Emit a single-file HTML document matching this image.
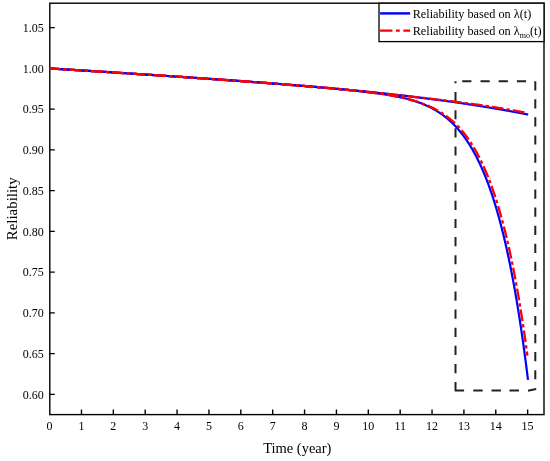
<!DOCTYPE html>
<html><head><meta charset="utf-8"><title>Reliability</title>
<style>html,body{margin:0;padding:0;background:#fff}svg{display:block}text{font-family:'Liberation Serif','Times New Roman',serif;fill:#000}</style></head>
<body>
<svg width="550" height="461" viewBox="0 0 550 461">
<rect x="0" y="0" width="550" height="461" fill="#fff"/>
<rect x="49.8" y="3.2" width="494.2" height="411.4" fill="none" stroke="#000" stroke-width="1.4"/>
<path d="M49.8 394.40h5M49.8 353.65h5M49.8 312.90h5M49.8 272.15h5M49.8 231.40h5M49.8 190.65h5M49.8 149.90h5M49.8 109.15h5M49.8 68.40h5M49.8 27.65h5M81.47 414.6v-5M113.34 414.6v-5M145.21 414.6v-5M177.08 414.6v-5M208.95 414.6v-5M240.82 414.6v-5M272.69 414.6v-5M304.56 414.6v-5M336.43 414.6v-5M368.30 414.6v-5M400.17 414.6v-5M432.04 414.6v-5M463.91 414.6v-5M495.78 414.6v-5M527.65 414.6v-5" stroke="#000" stroke-width="1.4" fill="none"/>
<g font-size="12px" text-anchor="end">
<text x="43.8" y="398.5">0.60</text>
<text x="43.8" y="357.8">0.65</text>
<text x="43.8" y="317.0">0.70</text>
<text x="43.8" y="276.2">0.75</text>
<text x="43.8" y="235.5">0.80</text>
<text x="43.8" y="194.8">0.85</text>
<text x="43.8" y="154.0">0.90</text>
<text x="43.8" y="113.3">0.95</text>
<text x="43.8" y="72.5">1.00</text>
<text x="43.8" y="31.7">1.05</text>
</g>
<g font-size="12px" text-anchor="middle">
<text x="49.6" y="429.8">0</text>
<text x="81.5" y="429.8">1</text>
<text x="113.3" y="429.8">2</text>
<text x="145.2" y="429.8">3</text>
<text x="177.1" y="429.8">4</text>
<text x="208.9" y="429.8">5</text>
<text x="240.8" y="429.8">6</text>
<text x="272.7" y="429.8">7</text>
<text x="304.6" y="429.8">8</text>
<text x="336.4" y="429.8">9</text>
<text x="368.3" y="429.8">10</text>
<text x="400.2" y="429.8">11</text>
<text x="432.0" y="429.8">12</text>
<text x="463.9" y="429.8">13</text>
<text x="495.8" y="429.8">14</text>
<text x="527.6" y="429.8">15</text>
</g>
<text x="297.3" y="452.6" font-size="14.5px" text-anchor="middle">Time (year)</text>
<text transform="translate(16.9 208.8) rotate(-90)" font-size="14.9px" text-anchor="middle">Reliability</text>
<path d="M455.5 81.3v2M462.2 81.3h9.2M480.5 81.3h9.2M498.7 81.3h9.2M516.9 81.3h9.2M535.3 81.20V90.40M535.3 99.26V108.46M535.3 117.32V126.52M535.3 135.38V144.58M535.3 153.44V162.64M535.3 171.50V180.70M535.3 189.56V198.76M535.3 207.62V216.82M535.3 225.68V234.88M535.3 243.74V252.94M535.3 261.80V271.00M535.3 279.86V289.06M535.3 297.92V307.12M535.3 315.98V325.18M535.3 334.04V343.24M535.3 352.10V361.30M535.3 370.16V379.36M535.3 388.22V389.40M455.5 92.00V101.20M455.5 110.13V119.33M455.5 128.26V137.46M455.5 146.39V155.59M455.5 164.52V173.72M455.5 182.65V191.85M455.5 200.78V209.98M455.5 218.91V228.11M455.5 237.04V246.24M455.5 255.17V264.37M455.5 273.30V282.50M455.5 291.43V300.63M455.5 309.56V318.76M455.5 327.69V336.89M455.5 345.82V355.02M455.5 363.95V373.15M455.5 382.08V390.60M454.7 390.6h9.4M473.3 390.6h9.4M491.5 390.6h9.4M509.5 390.6h9.4M528 390.7L536 389.0" stroke="#222" stroke-width="2" fill="none"/>
<g fill="none" stroke-width="2.2" stroke-linejoin="round">
<path d="M49.70 68.41 L51.70 68.53 L53.70 68.66 L55.70 68.78 L57.70 68.91 L59.70 69.03 L61.70 69.16 L63.70 69.28 L65.70 69.41 L67.70 69.53 L69.70 69.66 L71.70 69.78 L73.70 69.91 L75.70 70.04 L77.70 70.16 L79.70 70.29 L81.70 70.42 L83.70 70.54 L85.70 70.67 L87.70 70.80 L89.70 70.93 L91.70 71.05 L93.70 71.18 L95.70 71.31 L97.70 71.44 L99.70 71.57 L101.70 71.70 L103.70 71.82 L105.70 71.95 L107.70 72.08 L109.70 72.21 L111.70 72.34 L113.70 72.47 L115.70 72.60 L117.70 72.73 L119.70 72.86 L121.70 72.99 L123.70 73.12 L125.70 73.25 L127.70 73.38 L129.70 73.51 L131.70 73.64 L133.70 73.77 L135.70 73.90 L137.70 74.03 L139.70 74.16 L141.70 74.29 L143.70 74.43 L145.70 74.56 L147.70 74.69 L149.70 74.82 L151.70 74.95 L153.70 75.09 L155.70 75.22 L157.70 75.35 L159.70 75.48 L161.70 75.62 L163.70 75.75 L165.70 75.88 L167.70 76.02 L169.70 76.15 L171.70 76.29 L173.70 76.42 L175.70 76.56 L177.70 76.69 L179.70 76.83 L181.70 76.96 L183.70 77.10 L185.70 77.23 L187.70 77.37 L189.70 77.50 L191.70 77.64 L193.70 77.78 L195.70 77.91 L197.70 78.05 L199.70 78.19 L201.70 78.33 L203.70 78.47 L205.70 78.60 L207.70 78.74 L209.70 78.88 L211.70 79.02 L213.70 79.16 L215.70 79.30 L217.70 79.44 L219.70 79.58 L221.70 79.72 L223.70 79.87 L225.70 80.01 L227.70 80.15 L229.70 80.29 L231.70 80.44 L233.70 80.58 L235.70 80.72 L237.70 80.87 L239.70 81.01 L241.70 81.16 L243.70 81.30 L245.70 81.45 L247.70 81.60 L249.70 81.75 L251.70 81.89 L253.70 82.04 L255.70 82.19 L257.70 82.34 L259.70 82.49 L261.70 82.64 L263.70 82.79 L265.70 82.94 L267.70 83.10 L269.70 83.25 L271.70 83.40 L273.70 83.56 L275.70 83.71 L277.70 83.87 L279.70 84.02 L281.70 84.18 L283.70 84.34 L285.70 84.50 L287.70 84.66 L289.70 84.82 L291.70 84.98 L293.70 85.14 L295.70 85.30 L297.70 85.46 L299.70 85.63 L301.70 85.79 L303.70 85.96 L305.70 86.13 L307.70 86.29 L309.70 86.46 L311.70 86.63 L313.70 86.80 L315.70 86.97 L317.70 87.14 L319.70 87.32 L321.70 87.49 L323.70 87.66 L325.70 87.84 L327.70 88.02 L329.70 88.19 L331.70 88.37 L333.70 88.55 L335.70 88.74 L337.70 88.92 L339.70 89.10 L341.70 89.29 L343.70 89.47 L345.70 89.66 L347.70 89.85 L349.70 90.04 L351.70 90.23 L353.70 90.42 L355.70 90.61 L357.70 90.81 L359.70 91.00 L361.70 91.20 L363.70 91.40 L365.70 91.60 L367.70 91.80 L369.70 92.00 L371.70 92.21 L373.70 92.41 L375.70 92.62 L377.70 92.83 L379.70 93.04 L381.70 93.25 L383.70 93.46 L385.70 93.68 L387.70 93.89 L389.70 94.11 L391.70 94.33 L393.70 94.55 L395.70 94.78 L397.70 95.00 L399.70 95.23 L401.70 95.46 L403.70 95.69 L405.70 95.92 L407.70 96.15 L409.70 96.39 L411.70 96.62 L413.70 96.86 L415.70 97.11 L417.70 97.35 L419.70 97.59 L421.70 97.84 L423.70 98.09 L425.70 98.34 L427.70 98.59 L429.70 98.85 L431.70 99.11 L433.70 99.37 L435.70 99.63 L437.70 99.89 L439.70 100.16 L440.00 100.20 L440.25 100.23 L440.50 100.27 L440.75 100.30 L441.00 100.33 L441.25 100.37 L441.50 100.40 L441.75 100.43 L442.00 100.47 L442.25 100.50 L442.50 100.53 L442.75 100.57 L443.00 100.60 L443.25 100.64 L443.50 100.67 L443.75 100.70 L444.00 100.74 L444.25 100.77 L444.50 100.81 L444.75 100.84 L445.00 100.87 L445.25 100.91 L445.50 100.94 L445.75 100.98 L446.00 101.01 L446.25 101.05 L446.50 101.08 L446.75 101.11 L447.00 101.15 L447.25 101.18 L447.50 101.22 L447.75 101.25 L448.00 101.29 L448.25 101.32 L448.50 101.36 L448.75 101.39 L449.00 101.43 L449.25 101.46 L449.50 101.50 L449.75 101.53 L450.00 101.56 L450.25 101.60 L450.50 101.63 L450.75 101.67 L451.00 101.70 L451.25 101.74 L451.50 101.77 L451.75 101.81 L452.00 101.85 L452.25 101.88 L452.50 101.92 L452.75 101.95 L453.00 101.99 L453.25 102.02 L453.50 102.06 L453.75 102.09 L454.00 102.13 L454.25 102.16 L454.50 102.20 L454.75 102.23 L455.00 102.27 L455.25 102.31 L455.50 102.34 L455.75 102.38 L456.00 102.41 L456.25 102.45 L456.50 102.48 L456.75 102.52 L457.00 102.56 L457.25 102.59 L457.50 102.63 L457.75 102.66 L458.00 102.70 L458.25 102.74 L458.50 102.77 L458.75 102.81 L459.00 102.85 L459.25 102.88 L459.50 102.92 L459.75 102.95 L460.00 102.99 L460.25 103.03 L460.50 103.06 L460.75 103.10 L461.00 103.14 L461.25 103.17 L461.50 103.21 L461.75 103.25 L462.00 103.28 L462.25 103.32 L462.50 103.36 L462.75 103.39 L463.00 103.43 L463.25 103.47 L463.50 103.50 L463.75 103.54 L464.00 103.58 L464.25 103.62 L464.50 103.65 L464.75 103.69 L465.00 103.73 L465.25 103.76 L465.50 103.80 L465.75 103.84 L466.00 103.88 L466.25 103.91 L466.50 103.95 L466.75 103.99 L467.00 104.03 L467.25 104.06 L467.50 104.10 L467.75 104.14 L468.00 104.18 L468.25 104.21 L468.50 104.25 L468.75 104.29 L469.00 104.33 L469.25 104.36 L469.50 104.40 L469.75 104.44 L470.00 104.48 L470.25 104.52 L470.50 104.55 L470.75 104.59 L471.00 104.63 L471.25 104.67 L471.50 104.71 L471.75 104.75 L472.00 104.78 L472.25 104.82 L472.50 104.86 L472.75 104.90 L473.00 104.94 L473.25 104.98 L473.50 105.02 L473.75 105.05 L474.00 105.09 L474.25 105.13 L474.50 105.17 L474.75 105.21 L475.00 105.25 L475.25 105.29 L475.50 105.33 L475.75 105.36 L476.00 105.40 L476.25 105.44 L476.50 105.48 L476.75 105.52 L477.00 105.56 L477.25 105.60 L477.50 105.64 L477.75 105.68 L478.00 105.72 L478.25 105.76 L478.50 105.80 L478.75 105.84 L479.00 105.87 L479.25 105.91 L479.50 105.95 L479.75 105.99 L480.00 106.03 L480.25 106.07 L480.50 106.11 L480.75 106.15 L481.00 106.19 L481.25 106.23 L481.50 106.27 L481.75 106.31 L482.00 106.35 L482.25 106.39 L482.50 106.43 L482.75 106.47 L483.00 106.51 L483.25 106.55 L483.50 106.59 L483.75 106.63 L484.00 106.67 L484.25 106.71 L484.50 106.75 L484.75 106.80 L485.00 106.84 L485.25 106.88 L485.50 106.92 L485.75 106.96 L486.00 107.00 L486.25 107.04 L486.50 107.08 L486.75 107.12 L487.00 107.16 L487.25 107.20 L487.50 107.24 L487.75 107.29 L488.00 107.33 L488.25 107.37 L488.50 107.41 L488.75 107.45 L489.00 107.49 L489.25 107.53 L489.50 107.57 L489.75 107.62 L490.00 107.66 L490.25 107.70 L490.50 107.74 L490.75 107.78 L491.00 107.82 L491.25 107.86 L491.50 107.91 L491.75 107.95 L492.00 107.99 L492.25 108.03 L492.50 108.07 L492.75 108.12 L493.00 108.16 L493.25 108.20 L493.50 108.24 L493.75 108.28 L494.00 108.33 L494.25 108.37 L494.50 108.41 L494.75 108.45 L495.00 108.50 L495.25 108.54 L495.50 108.58 L495.75 108.62 L496.00 108.67 L496.25 108.71 L496.50 108.75 L496.75 108.79 L497.00 108.84 L497.25 108.88 L497.50 108.92 L497.75 108.97 L498.00 109.01 L498.25 109.05 L498.50 109.09 L498.75 109.14 L499.00 109.18 L499.25 109.22 L499.50 109.27 L499.75 109.31 L500.00 109.35 L500.25 109.40 L500.50 109.44 L500.75 109.48 L501.00 109.53 L501.25 109.57 L501.50 109.61 L501.75 109.66 L502.00 109.70 L502.25 109.75 L502.50 109.79 L502.75 109.83 L503.00 109.88 L503.25 109.92 L503.50 109.97 L503.75 110.01 L504.00 110.05 L504.25 110.10 L504.50 110.14 L504.75 110.19 L505.00 110.23 L505.25 110.28 L505.50 110.32 L505.75 110.36 L506.00 110.41 L506.25 110.45 L506.50 110.50 L506.75 110.54 L507.00 110.59 L507.25 110.63 L507.50 110.68 L507.75 110.72 L508.00 110.77 L508.25 110.81 L508.50 110.86 L508.75 110.90 L509.00 110.95 L509.25 110.99 L509.50 111.04 L509.75 111.08 L510.00 111.13 L510.25 111.17 L510.50 111.22 L510.75 111.26 L511.00 111.31 L511.25 111.36 L511.50 111.40 L511.75 111.45 L512.00 111.49 L512.25 111.54 L512.50 111.58 L512.75 111.63 L513.00 111.68 L513.25 111.72 L513.50 111.77 L513.75 111.81 L514.00 111.86 L514.25 111.91 L514.50 111.95 L514.75 112.00 L515.00 112.04 L515.25 112.09 L515.50 112.14 L515.75 112.18 L516.00 112.23 L516.25 112.28 L516.50 112.32 L516.75 112.37 L517.00 112.42 L517.25 112.46 L517.50 112.51 L517.75 112.56 L518.00 112.60 L518.25 112.65 L518.50 112.70 L518.75 112.75 L519.00 112.79 L519.25 112.84 L519.50 112.89 L519.75 112.94 L520.00 112.98 L520.25 113.03 L520.50 113.08 L520.75 113.12 L521.00 113.17 L521.25 113.22 L521.50 113.27 L521.75 113.32 L522.00 113.36 L522.25 113.41 L522.50 113.46 L522.75 113.51 L523.00 113.56 L523.25 113.60 L523.50 113.65 L523.75 113.70 L524.00 113.75 L524.25 113.80 L524.50 113.84 L524.75 113.89 L525.00 113.94 L525.25 113.99 L525.50 114.04 L525.75 114.09 L526.00 114.14 L526.25 114.18 L526.50 114.23 L526.75 114.28 L527.00 114.33 L527.25 114.38 L527.50 114.43 L527.75 114.48 L528.00 114.53 L528.20 114.57" stroke="#0000ff"/>
<path d="M49.70 68.41 L51.70 68.53 L53.70 68.66 L55.70 68.78 L57.70 68.91 L59.70 69.03 L61.70 69.16 L63.70 69.28 L65.70 69.41 L67.70 69.53 L69.70 69.66 L71.70 69.78 L73.70 69.91 L75.70 70.04 L77.70 70.16 L79.70 70.29 L81.70 70.42 L83.70 70.54 L85.70 70.67 L87.70 70.80 L89.70 70.93 L91.70 71.05 L93.70 71.18 L95.70 71.31 L97.70 71.44 L99.70 71.57 L101.70 71.70 L103.70 71.82 L105.70 71.95 L107.70 72.08 L109.70 72.21 L111.70 72.34 L113.70 72.47 L115.70 72.60 L117.70 72.73 L119.70 72.86 L121.70 72.99 L123.70 73.12 L125.70 73.25 L127.70 73.38 L129.70 73.51 L131.70 73.64 L133.70 73.77 L135.70 73.90 L137.70 74.03 L139.70 74.16 L141.70 74.29 L143.70 74.43 L145.70 74.56 L147.70 74.69 L149.70 74.82 L151.70 74.95 L153.70 75.09 L155.70 75.22 L157.70 75.35 L159.70 75.48 L161.70 75.62 L163.70 75.75 L165.70 75.88 L167.70 76.02 L169.70 76.15 L171.70 76.29 L173.70 76.42 L175.70 76.56 L177.70 76.69 L179.70 76.83 L181.70 76.96 L183.70 77.10 L185.70 77.23 L187.70 77.37 L189.70 77.50 L191.70 77.64 L193.70 77.78 L195.70 77.91 L197.70 78.05 L199.70 78.19 L201.70 78.33 L203.70 78.47 L205.70 78.60 L207.70 78.74 L209.70 78.88 L211.70 79.02 L213.70 79.16 L215.70 79.30 L217.70 79.44 L219.70 79.58 L221.70 79.72 L223.70 79.87 L225.70 80.01 L227.70 80.15 L229.70 80.29 L231.70 80.44 L233.70 80.58 L235.70 80.72 L237.70 80.87 L239.70 81.01 L241.70 81.16 L243.70 81.30 L245.70 81.45 L247.70 81.60 L249.70 81.75 L251.70 81.89 L253.70 82.04 L255.70 82.19 L257.70 82.34 L259.70 82.49 L261.70 82.64 L263.70 82.79 L265.70 82.94 L267.70 83.10 L269.70 83.25 L271.70 83.40 L273.70 83.56 L275.70 83.71 L277.70 83.87 L279.70 84.02 L281.70 84.18 L283.70 84.34 L285.70 84.50 L287.70 84.66 L289.70 84.82 L291.70 84.98 L293.70 85.14 L295.70 85.30 L297.70 85.46 L299.70 85.63 L301.70 85.79 L303.70 85.96 L305.70 86.13 L307.70 86.29 L309.70 86.46 L311.70 86.63 L313.70 86.80 L315.70 86.97 L317.70 87.14 L319.70 87.32 L321.70 87.49 L323.70 87.66 L325.70 87.84 L327.70 88.02 L329.70 88.19 L331.70 88.39 L333.70 88.58 L335.70 88.76 L337.70 88.95 L339.70 89.14 L341.70 89.33 L343.70 89.52 L345.70 89.72 L347.70 89.92 L349.70 90.12 L351.70 90.32 L353.70 90.53 L355.70 90.74 L357.70 90.95 L359.70 91.17 L361.70 91.39 L363.70 91.62 L365.70 91.85 L367.70 92.08 L369.70 92.33 L371.70 92.58 L373.70 92.83 L375.70 93.10 L377.70 93.37 L379.70 93.65 L381.70 93.94 L383.70 94.24 L385.70 94.55 L387.70 94.87 L389.70 95.21 L391.70 95.56 L393.70 95.93 L395.70 96.31 L397.70 96.71 L399.70 97.14 L401.70 97.58 L403.70 98.04 L405.70 98.53 L407.70 99.05 L409.70 99.59 L411.70 100.17 L413.70 100.77 L415.70 101.41 L417.70 102.09 L419.70 102.81 L421.70 103.57 L423.70 104.38 L425.70 105.23 L427.70 106.14 L429.70 107.10 L431.70 108.12 L433.70 109.20 L435.70 110.35 L437.70 111.57 L439.70 112.87 L440.00 113.07 L440.25 113.24 L440.50 113.41 L440.75 113.58 L441.00 113.75 L441.25 113.92 L441.50 114.10 L441.75 114.28 L442.00 114.45 L442.25 114.63 L442.50 114.81 L442.75 114.99 L443.00 115.18 L443.25 115.36 L443.50 115.55 L443.75 115.74 L444.00 115.92 L444.25 116.11 L444.50 116.31 L444.75 116.50 L445.00 116.69 L445.25 116.89 L445.50 117.09 L445.75 117.28 L446.00 117.48 L446.25 117.69 L446.50 117.89 L446.75 118.09 L447.00 118.30 L447.25 118.51 L447.50 118.72 L447.75 118.93 L448.00 119.14 L448.25 119.35 L448.50 119.57 L448.75 119.79 L449.00 120.01 L449.25 120.23 L449.50 120.45 L449.75 120.67 L450.00 120.90 L450.25 121.12 L450.50 121.35 L450.75 121.58 L451.00 121.81 L451.25 122.05 L451.50 122.28 L451.75 122.52 L452.00 122.76 L452.25 123.00 L452.50 123.24 L452.75 123.49 L453.00 123.73 L453.25 123.98 L453.50 124.23 L453.75 124.48 L454.00 124.74 L454.25 124.99 L454.50 125.25 L454.75 125.51 L455.00 125.77 L455.25 126.03 L455.50 126.30 L455.75 126.56 L456.00 126.83 L456.25 127.10 L456.50 127.37 L456.75 127.65 L457.00 127.93 L457.25 128.20 L457.50 128.48 L457.75 128.77 L458.00 129.05 L458.25 129.34 L458.50 129.63 L458.75 129.92 L459.00 130.21 L459.25 130.51 L459.50 130.81 L459.75 131.11 L460.00 131.41 L460.25 131.71 L460.50 132.02 L460.75 132.33 L461.00 132.64 L461.25 132.95 L461.50 133.27 L461.75 133.58 L462.00 133.90 L462.25 134.22 L462.50 134.55 L462.75 134.88 L463.00 135.21 L463.25 135.54 L463.50 135.87 L463.75 136.21 L464.00 136.55 L464.25 136.89 L464.50 137.23 L464.75 137.58 L465.00 137.93 L465.25 138.28 L465.50 138.63 L465.75 138.99 L466.00 139.35 L466.25 139.71 L466.50 140.07 L466.75 140.44 L467.00 140.81 L467.25 141.18 L467.50 141.56 L467.75 141.93 L468.00 142.31 L468.25 142.70 L468.50 143.08 L468.75 143.47 L469.00 143.86 L469.25 144.26 L469.50 144.65 L469.75 145.05 L470.00 145.46 L470.25 145.86 L470.50 146.27 L470.75 146.68 L471.00 147.09 L471.25 147.51 L471.50 147.93 L471.75 148.35 L472.00 148.78 L472.25 149.21 L472.50 149.64 L472.75 150.08 L473.00 150.52 L473.25 150.96 L473.50 151.40 L473.75 151.85 L474.00 152.30 L474.25 152.75 L474.50 153.21 L474.75 153.67 L475.00 154.14 L475.25 154.60 L475.50 155.07 L475.75 155.55 L476.00 156.02 L476.25 156.51 L476.50 156.99 L476.75 157.48 L477.00 157.97 L477.25 158.46 L477.50 158.96 L477.75 159.46 L478.00 159.97 L478.25 160.47 L478.50 160.99 L478.75 161.50 L479.00 162.02 L479.25 162.54 L479.50 163.07 L479.75 163.60 L480.00 164.14 L480.25 164.67 L480.50 165.21 L480.75 165.76 L481.00 166.31 L481.25 166.86 L481.50 167.42 L481.75 167.98 L482.00 168.55 L482.25 169.11 L482.50 169.69 L482.75 170.26 L483.00 170.84 L483.25 171.43 L483.50 172.02 L483.75 172.61 L484.00 173.21 L484.25 173.81 L484.50 174.42 L484.75 175.03 L485.00 175.64 L485.25 176.26 L485.50 176.88 L485.75 177.51 L486.00 178.14 L486.25 178.78 L486.50 179.42 L486.75 180.06 L487.00 180.71 L487.25 181.37 L487.50 182.02 L487.75 182.69 L488.00 183.35 L488.25 184.03 L488.50 184.70 L488.75 185.39 L489.00 186.07 L489.25 186.76 L489.50 187.46 L489.75 188.16 L490.00 188.87 L490.25 189.58 L490.50 190.29 L490.75 191.01 L491.00 191.74 L491.25 192.47 L491.50 193.21 L491.75 193.95 L492.00 194.69 L492.25 195.45 L492.50 196.20 L492.75 196.96 L493.00 197.73 L493.25 198.50 L493.50 199.28 L493.75 200.06 L494.00 200.85 L494.25 201.65 L494.50 202.45 L494.75 203.25 L495.00 204.06 L495.25 204.88 L495.50 205.70 L495.75 206.53 L496.00 207.36 L496.25 208.20 L496.50 209.05 L496.75 209.90 L497.00 210.76 L497.25 211.62 L497.50 212.49 L497.75 213.36 L498.00 214.24 L498.25 215.13 L498.50 216.02 L498.75 216.92 L499.00 217.83 L499.25 218.74 L499.50 219.66 L499.75 220.58 L500.00 221.52 L500.25 222.45 L500.50 223.40 L500.75 224.35 L501.00 225.30 L501.25 226.27 L501.50 227.24 L501.75 228.22 L502.00 229.20 L502.25 230.19 L502.50 231.19 L502.75 232.19 L503.00 233.20 L503.25 234.22 L503.50 235.25 L503.75 236.28 L504.00 237.32 L504.25 238.37 L504.50 239.42 L504.75 240.49 L505.00 241.55 L505.25 242.63 L505.50 243.72 L505.75 244.81 L506.00 245.91 L506.25 247.01 L506.50 248.13 L506.75 249.25 L507.00 250.38 L507.25 251.52 L507.50 252.66 L507.75 253.82 L508.00 254.98 L508.25 256.15 L508.50 257.33 L508.75 258.51 L509.00 259.71 L509.25 260.91 L509.50 262.12 L509.75 263.34 L510.00 264.57 L510.25 265.81 L510.50 267.05 L510.75 268.30 L511.00 269.57 L511.25 270.84 L511.50 272.12 L511.75 273.41 L512.00 274.71 L512.25 276.01 L512.50 277.33 L512.75 278.66 L513.00 279.99 L513.25 281.33 L513.50 282.69 L513.75 284.05 L514.00 285.42 L514.25 286.81 L514.50 288.20 L514.75 289.60 L515.00 291.01 L515.25 292.43 L515.50 293.86 L515.75 295.30 L516.00 296.76 L516.25 298.22 L516.50 299.69 L516.75 301.17 L517.00 302.66 L517.25 304.17 L517.50 305.68 L517.75 307.20 L518.00 308.74 L518.25 310.29 L518.50 311.84 L518.75 313.41 L519.00 314.99 L519.25 316.58 L519.50 318.18 L519.75 319.79 L520.00 321.41 L520.25 323.05 L520.50 324.70 L520.75 326.35 L521.00 328.02 L521.25 329.70 L521.50 331.40 L521.75 333.10 L522.00 334.82 L522.25 336.55 L522.50 338.29 L522.75 340.05 L523.00 341.81 L523.25 343.59 L523.50 345.38 L523.75 347.19 L524.00 349.01 L524.25 350.84 L524.50 352.68 L524.75 354.54 L525.00 356.41 L525.25 358.29 L525.50 360.19 L525.75 362.10 L526.00 364.02 L526.25 365.96 L526.50 367.91 L526.75 369.87 L527.00 371.85 L527.25 373.84 L527.50 375.85 L527.75 377.87 L528.00 379.91" stroke="#0000ff"/>
<path d="M49.70 68.41 L51.70 68.53 L53.70 68.66 L55.70 68.78 L57.70 68.91 L59.70 69.03 L61.70 69.16 L63.70 69.28 L65.70 69.41 L67.70 69.53 L69.70 69.66 L71.70 69.78 L73.70 69.91 L75.70 70.04 L77.70 70.16 L79.70 70.29 L81.70 70.42 L83.70 70.54 L85.70 70.67 L87.70 70.80 L89.70 70.93 L91.70 71.05 L93.70 71.18 L95.70 71.31 L97.70 71.44 L99.70 71.57 L101.70 71.70 L103.70 71.82 L105.70 71.95 L107.70 72.08 L109.70 72.21 L111.70 72.34 L113.70 72.47 L115.70 72.60 L117.70 72.73 L119.70 72.86 L121.70 72.99 L123.70 73.12 L125.70 73.25 L127.70 73.38 L129.70 73.51 L131.70 73.64 L133.70 73.77 L135.70 73.90 L137.70 74.03 L139.70 74.16 L141.70 74.29 L143.70 74.43 L145.70 74.56 L147.70 74.69 L149.70 74.82 L151.70 74.95 L153.70 75.09 L155.70 75.22 L157.70 75.35 L159.70 75.48 L161.70 75.62 L163.70 75.75 L165.70 75.88 L167.70 76.02 L169.70 76.15 L171.70 76.29 L173.70 76.42 L175.70 76.56 L177.70 76.69 L179.70 76.83 L181.70 76.96 L183.70 77.10 L185.70 77.23 L187.70 77.37 L189.70 77.50 L191.70 77.64 L193.70 77.78 L195.70 77.91 L197.70 78.05 L199.70 78.19 L201.70 78.33 L203.70 78.47 L205.70 78.60 L207.70 78.74 L209.70 78.88 L211.70 79.02 L213.70 79.16 L215.70 79.30 L217.70 79.44 L219.70 79.58 L221.70 79.72 L223.70 79.87 L225.70 80.01 L227.70 80.15 L229.70 80.29 L231.70 80.44 L233.70 80.58 L235.70 80.72 L237.70 80.87 L239.70 81.01 L241.70 81.16 L243.70 81.30 L245.70 81.45 L247.70 81.60 L249.70 81.75 L251.70 81.89 L253.70 82.04 L255.70 82.19 L257.70 82.34 L259.70 82.49 L261.70 82.64 L263.70 82.79 L265.70 82.94 L267.70 83.10 L269.70 83.25 L271.70 83.40 L273.70 83.56 L275.70 83.71 L277.70 83.87 L279.70 84.02 L281.70 84.18 L283.70 84.34 L285.70 84.50 L287.70 84.66 L289.70 84.82 L291.70 84.98 L293.70 85.14 L295.70 85.30 L297.70 85.46 L299.70 85.63 L301.70 85.79 L303.70 85.96 L305.70 86.13 L307.70 86.29 L309.70 86.46 L311.70 86.63 L313.70 86.80 L315.70 86.97 L317.70 87.14 L319.70 87.32 L321.70 87.49 L323.70 87.66 L325.70 87.84 L327.70 88.02 L329.70 88.19 L331.70 88.37 L333.70 88.55 L335.70 88.74 L337.70 88.92 L339.70 89.10 L341.70 89.29 L343.70 89.47 L345.70 89.66 L347.70 89.85 L349.70 90.04 L351.70 90.23 L353.70 90.42 L355.70 90.61 L357.70 90.81 L359.70 91.00 L361.70 91.20 L363.70 91.40 L365.70 91.60 L367.70 91.80 L369.70 92.00 L371.70 92.21 L373.70 92.41 L375.70 92.62 L377.70 92.83 L379.70 93.04 L381.70 93.25 L383.70 93.46 L385.70 93.68 L387.70 93.89 L389.70 94.11 L391.70 94.33 L393.70 94.55 L395.70 94.78 L397.70 95.00 L399.70 95.23 L401.70 95.46 L403.70 95.68 L405.70 95.91 L407.70 96.14 L409.70 96.36 L411.70 96.59 L413.70 96.82 L415.70 97.04 L417.70 97.27 L419.70 97.50 L421.70 97.73 L423.70 97.96 L425.70 98.19 L427.70 98.42 L429.70 98.65 L431.70 98.88 L433.70 99.12 L435.70 99.35 L437.70 99.59 L439.70 99.82 L440.00 99.86 L440.25 99.89 L440.50 99.92 L440.75 99.95 L441.00 99.98 L441.25 100.01 L441.50 100.04 L441.75 100.07 L442.00 100.10 L442.25 100.13 L442.50 100.16 L442.75 100.19 L443.00 100.22 L443.25 100.25 L443.50 100.28 L443.75 100.31 L444.00 100.34 L444.25 100.37 L444.50 100.40 L444.75 100.43 L445.00 100.46 L445.25 100.49 L445.50 100.52 L445.75 100.55 L446.00 100.58 L446.25 100.61 L446.50 100.64 L446.75 100.67 L447.00 100.70 L447.25 100.73 L447.50 100.76 L447.75 100.80 L448.00 100.83 L448.25 100.86 L448.50 100.89 L448.75 100.92 L449.00 100.95 L449.25 100.98 L449.50 101.01 L449.75 101.04 L450.00 101.07 L450.25 101.10 L450.50 101.13 L450.75 101.16 L451.00 101.20 L451.25 101.23 L451.50 101.26 L451.75 101.29 L452.00 101.32 L452.25 101.35 L452.50 101.38 L452.75 101.41 L453.00 101.44 L453.25 101.48 L453.50 101.51 L453.75 101.54 L454.00 101.57 L454.25 101.60 L454.50 101.63 L454.75 101.66 L455.00 101.70 L455.25 101.73 L455.50 101.76 L455.75 101.79 L456.00 101.82 L456.25 101.85 L456.50 101.89 L456.75 101.92 L457.00 101.95 L457.25 101.98 L457.50 102.01 L457.75 102.04 L458.00 102.08 L458.25 102.11 L458.50 102.14 L458.75 102.17 L459.00 102.20 L459.25 102.24 L459.50 102.27 L459.75 102.30 L460.00 102.33 L460.25 102.36 L460.50 102.40 L460.75 102.43 L461.00 102.46 L461.25 102.49 L461.50 102.53 L461.75 102.56 L462.00 102.59 L462.25 102.62 L462.50 102.66 L462.75 102.69 L463.00 102.72 L463.25 102.75 L463.50 102.79 L463.75 102.82 L464.00 102.85 L464.25 102.89 L464.50 102.92 L464.75 102.95 L465.00 102.98 L465.25 103.02 L465.50 103.05 L465.75 103.08 L466.00 103.12 L466.25 103.15 L466.50 103.18 L466.75 103.22 L467.00 103.25 L467.25 103.28 L467.50 103.32 L467.75 103.35 L468.00 103.38 L468.25 103.42 L468.50 103.45 L468.75 103.48 L469.00 103.52 L469.25 103.55 L469.50 103.59 L469.75 103.62 L470.00 103.65 L470.25 103.69 L470.50 103.72 L470.75 103.76 L471.00 103.79 L471.25 103.82 L471.50 103.86 L471.75 103.89 L472.00 103.93 L472.25 103.96 L472.50 103.99 L472.75 104.03 L473.00 104.06 L473.25 104.10 L473.50 104.13 L473.75 104.17 L474.00 104.20 L474.25 104.24 L474.50 104.27 L474.75 104.31 L475.00 104.34 L475.25 104.38 L475.50 104.41 L475.75 104.44 L476.00 104.48 L476.25 104.51 L476.50 104.55 L476.75 104.59 L477.00 104.62 L477.25 104.66 L477.50 104.69 L477.75 104.73 L478.00 104.76 L478.25 104.80 L478.50 104.83 L478.75 104.87 L479.00 104.90 L479.25 104.94 L479.50 104.98 L479.75 105.01 L480.00 105.05 L480.25 105.08 L480.50 105.12 L480.75 105.15 L481.00 105.19 L481.25 105.23 L481.50 105.26 L481.75 105.30 L482.00 105.34 L482.25 105.37 L482.50 105.41 L482.75 105.44 L483.00 105.48 L483.25 105.52 L483.50 105.55 L483.75 105.59 L484.00 105.63 L484.25 105.66 L484.50 105.70 L484.75 105.74 L485.00 105.77 L485.25 105.81 L485.50 105.85 L485.75 105.89 L486.00 105.92 L486.25 105.96 L486.50 106.00 L486.75 106.03 L487.00 106.07 L487.25 106.11 L487.50 106.15 L487.75 106.18 L488.00 106.22 L488.25 106.26 L488.50 106.30 L488.75 106.33 L489.00 106.37 L489.25 106.41 L489.50 106.45 L489.75 106.49 L490.00 106.52 L490.25 106.56 L490.50 106.60 L490.75 106.64 L491.00 106.68 L491.25 106.72 L491.50 106.75 L491.75 106.79 L492.00 106.83 L492.25 106.87 L492.50 106.91 L492.75 106.95 L493.00 106.99 L493.25 107.03 L493.50 107.06 L493.75 107.10 L494.00 107.14 L494.25 107.18 L494.50 107.22 L494.75 107.26 L495.00 107.30 L495.25 107.34 L495.50 107.38 L495.75 107.42 L496.00 107.46 L496.25 107.50 L496.50 107.54 L496.75 107.58 L497.00 107.62 L497.25 107.66 L497.50 107.70 L497.75 107.74 L498.00 107.78 L498.25 107.82 L498.50 107.86 L498.75 107.90 L499.00 107.94 L499.25 107.98 L499.50 108.02 L499.75 108.06 L500.00 108.10 L500.25 108.14 L500.50 108.18 L500.75 108.22 L501.00 108.26 L501.25 108.30 L501.50 108.34 L501.75 108.39 L502.00 108.43 L502.25 108.47 L502.50 108.51 L502.75 108.55 L503.00 108.59 L503.25 108.63 L503.50 108.68 L503.75 108.72 L504.00 108.76 L504.25 108.80 L504.50 108.84 L504.75 108.89 L505.00 108.93 L505.25 108.97 L505.50 109.01 L505.75 109.05 L506.00 109.10 L506.25 109.14 L506.50 109.18 L506.75 109.22 L507.00 109.27 L507.25 109.31 L507.50 109.35 L507.75 109.39 L508.00 109.44 L508.25 109.48 L508.50 109.52 L508.75 109.57 L509.00 109.61 L509.25 109.65 L509.50 109.70 L509.75 109.74 L510.00 109.78 L510.25 109.83 L510.50 109.87 L510.75 109.91 L511.00 109.96 L511.25 110.00 L511.50 110.05 L511.75 110.09 L512.00 110.13 L512.25 110.18 L512.50 110.22 L512.75 110.27 L513.00 110.31 L513.25 110.36 L513.50 110.40 L513.75 110.45 L514.00 110.49 L514.25 110.54 L514.50 110.58 L514.75 110.63 L515.00 110.67 L515.25 110.72 L515.50 110.76 L515.75 110.81 L516.00 110.85 L516.25 110.90 L516.50 110.94 L516.75 110.99 L517.00 111.03 L517.25 111.08 L517.50 111.13 L517.75 111.17 L518.00 111.22 L518.25 111.26 L518.50 111.31 L518.75 111.36 L519.00 111.40 L519.25 111.45 L519.50 111.50 L519.75 111.54 L520.00 111.59 L520.25 111.64 L520.50 111.68 L520.75 111.73 L521.00 111.78 L521.25 111.82 L521.50 111.87 L521.75 111.92 L522.00 111.97 L522.25 112.01 L522.50 112.06 L522.75 112.11 L523.00 112.16 L523.25 112.20 L523.50 112.25 L523.75 112.30 L524.00 112.35 L524.25 112.40 L524.50 112.44 L524.75 112.49 L525.00 112.54 L525.25 112.59 L525.50 112.64" stroke="#ff0000" stroke-width="2.3" stroke-dasharray="11.8 3 3.4 3" stroke-dashoffset="1.2"/>
<path d="M49.70 68.41 L51.70 68.53 L53.70 68.66 L55.70 68.78 L57.70 68.91 L59.70 69.03 L61.70 69.16 L63.70 69.28 L65.70 69.41 L67.70 69.53 L69.70 69.66 L71.70 69.78 L73.70 69.91 L75.70 70.04 L77.70 70.16 L79.70 70.29 L81.70 70.42 L83.70 70.54 L85.70 70.67 L87.70 70.80 L89.70 70.93 L91.70 71.05 L93.70 71.18 L95.70 71.31 L97.70 71.44 L99.70 71.57 L101.70 71.70 L103.70 71.82 L105.70 71.95 L107.70 72.08 L109.70 72.21 L111.70 72.34 L113.70 72.47 L115.70 72.60 L117.70 72.73 L119.70 72.86 L121.70 72.99 L123.70 73.12 L125.70 73.25 L127.70 73.38 L129.70 73.51 L131.70 73.64 L133.70 73.77 L135.70 73.90 L137.70 74.03 L139.70 74.16 L141.70 74.29 L143.70 74.43 L145.70 74.56 L147.70 74.69 L149.70 74.82 L151.70 74.95 L153.70 75.09 L155.70 75.22 L157.70 75.35 L159.70 75.48 L161.70 75.62 L163.70 75.75 L165.70 75.88 L167.70 76.02 L169.70 76.15 L171.70 76.29 L173.70 76.42 L175.70 76.56 L177.70 76.69 L179.70 76.83 L181.70 76.96 L183.70 77.10 L185.70 77.23 L187.70 77.37 L189.70 77.50 L191.70 77.64 L193.70 77.78 L195.70 77.91 L197.70 78.05 L199.70 78.19 L201.70 78.33 L203.70 78.47 L205.70 78.60 L207.70 78.74 L209.70 78.88 L211.70 79.02 L213.70 79.16 L215.70 79.30 L217.70 79.44 L219.70 79.58 L221.70 79.72 L223.70 79.87 L225.70 80.01 L227.70 80.15 L229.70 80.29 L231.70 80.44 L233.70 80.58 L235.70 80.72 L237.70 80.87 L239.70 81.01 L241.70 81.16 L243.70 81.30 L245.70 81.45 L247.70 81.60 L249.70 81.75 L251.70 81.89 L253.70 82.04 L255.70 82.19 L257.70 82.34 L259.70 82.49 L261.70 82.64 L263.70 82.79 L265.70 82.94 L267.70 83.10 L269.70 83.25 L271.70 83.40 L273.70 83.56 L275.70 83.71 L277.70 83.87 L279.70 84.02 L281.70 84.18 L283.70 84.34 L285.70 84.50 L287.70 84.66 L289.70 84.82 L291.70 84.98 L293.70 85.14 L295.70 85.30 L297.70 85.46 L299.70 85.63 L301.70 85.79 L303.70 85.96 L305.70 86.13 L307.70 86.29 L309.70 86.46 L311.70 86.63 L313.70 86.80 L315.70 86.97 L317.70 87.14 L319.70 87.32 L321.70 87.49 L323.70 87.66 L325.70 87.84 L327.70 88.02 L329.70 88.19 L331.70 88.39 L333.70 88.58 L335.70 88.76 L337.70 88.95 L339.70 89.14 L341.70 89.33 L343.70 89.52 L345.70 89.72 L347.70 89.92 L349.70 90.12 L351.70 90.32 L353.70 90.53 L355.70 90.74 L357.70 90.95 L359.70 91.17 L361.70 91.39 L363.70 91.62 L365.70 91.85 L367.70 92.08 L369.70 92.33 L371.70 92.58 L373.70 92.83 L375.70 93.10 L377.70 93.37 L379.70 93.65 L381.70 93.94 L383.70 94.24 L385.70 94.55 L387.70 94.87 L389.70 95.21 L391.70 95.56 L393.70 95.93 L395.70 96.31 L397.70 96.71 L399.70 97.13 L401.70 97.57 L403.70 98.03 L405.70 98.50 L407.70 99.00 L409.70 99.52 L411.70 100.06 L413.70 100.63 L415.70 101.23 L417.70 101.87 L419.70 102.53 L421.70 103.23 L423.70 103.97 L425.70 104.76 L427.70 105.58 L429.70 106.46 L431.70 107.38 L433.70 108.36 L435.70 109.40 L437.70 110.50 L439.70 111.67 L440.00 111.85 L440.25 112.00 L440.50 112.16 L440.75 112.31 L441.00 112.46 L441.25 112.62 L441.50 112.78 L441.75 112.94 L442.00 113.10 L442.25 113.26 L442.50 113.42 L442.75 113.59 L443.00 113.75 L443.25 113.92 L443.50 114.09 L443.75 114.25 L444.00 114.42 L444.25 114.60 L444.50 114.77 L444.75 114.94 L445.00 115.12 L445.25 115.29 L445.50 115.47 L445.75 115.65 L446.00 115.83 L446.25 116.01 L446.50 116.20 L446.75 116.38 L447.00 116.57 L447.25 116.75 L447.50 116.94 L447.75 117.13 L448.00 117.32 L448.25 117.52 L448.50 117.71 L448.75 117.91 L449.00 118.11 L449.25 118.30 L449.50 118.51 L449.75 118.71 L450.00 118.91 L450.25 119.12 L450.50 119.32 L450.75 119.53 L451.00 119.74 L451.25 119.95 L451.50 120.17 L451.75 120.38 L452.00 120.60 L452.25 120.81 L452.50 121.03 L452.75 121.26 L453.00 121.48 L453.25 121.70 L453.50 121.93 L453.75 122.16 L454.00 122.39 L454.25 122.62 L454.50 122.85 L454.75 123.09 L455.00 123.32 L455.25 123.56 L455.50 123.80 L455.75 124.05 L456.00 124.29 L456.25 124.54 L456.50 124.79 L456.75 125.04 L457.00 125.29 L457.25 125.54 L457.50 125.80 L457.75 126.05 L458.00 126.31 L458.25 126.58 L458.50 126.84 L458.75 127.11 L459.00 127.37 L459.25 127.64 L459.50 127.92 L459.75 128.19 L460.00 128.47 L460.25 128.75 L460.50 129.03 L460.75 129.31 L461.00 129.59 L461.25 129.88 L461.50 130.17 L461.75 130.46 L462.00 130.75 L462.25 131.05 L462.50 131.35 L462.75 131.65 L463.00 131.95 L463.25 132.26 L463.50 132.56 L463.75 132.87 L464.00 133.18 L464.25 133.50 L464.50 133.82 L464.75 134.13 L465.00 134.46 L465.25 134.78 L465.50 135.11 L465.75 135.44 L466.00 135.77 L466.25 136.10 L466.50 136.44 L466.75 136.78 L467.00 137.12 L467.25 137.46 L467.50 137.81 L467.75 138.16 L468.00 138.51 L468.25 138.87 L468.50 139.23 L468.75 139.59 L469.00 139.95 L469.25 140.32 L469.50 140.69 L469.75 141.06 L470.00 141.43 L470.25 141.81 L470.50 142.19 L470.75 142.58 L471.00 142.96 L471.25 143.35 L471.50 143.74 L471.75 144.14 L472.00 144.53 L472.25 144.93 L472.50 145.34 L472.75 145.74 L473.00 146.15 L473.25 146.56 L473.50 146.98 L473.75 147.40 L474.00 147.82 L474.25 148.24 L474.50 148.67 L474.75 149.10 L475.00 149.53 L475.25 149.96 L475.50 150.40 L475.75 150.84 L476.00 151.29 L476.25 151.74 L476.50 152.19 L476.75 152.64 L477.00 153.10 L477.25 153.56 L477.50 154.03 L477.75 154.49 L478.00 154.97 L478.25 155.44 L478.50 155.92 L478.75 156.40 L479.00 156.88 L479.25 157.37 L479.50 157.86 L479.75 158.36 L480.00 158.85 L480.25 159.36 L480.50 159.86 L480.75 160.37 L481.00 160.88 L481.25 161.40 L481.50 161.92 L481.75 162.44 L482.00 162.97 L482.25 163.50 L482.50 164.03 L482.75 164.57 L483.00 165.11 L483.25 165.66 L483.50 166.21 L483.75 166.76 L484.00 167.32 L484.25 167.88 L484.50 168.45 L484.75 169.02 L485.00 169.59 L485.25 170.17 L485.50 170.75 L485.75 171.33 L486.00 171.92 L486.25 172.52 L486.50 173.12 L486.75 173.72 L487.00 174.32 L487.25 174.93 L487.50 175.55 L487.75 176.17 L488.00 176.79 L488.25 177.42 L488.50 178.05 L488.75 178.69 L489.00 179.33 L489.25 179.97 L489.50 180.62 L489.75 181.28 L490.00 181.94 L490.25 182.60 L490.50 183.27 L490.75 183.94 L491.00 184.62 L491.25 185.30 L491.50 185.99 L491.75 186.68 L492.00 187.38 L492.25 188.08 L492.50 188.78 L492.75 189.50 L493.00 190.21 L493.25 190.93 L493.50 191.66 L493.75 192.39 L494.00 193.13 L494.25 193.87 L494.50 194.62 L494.75 195.37 L495.00 196.12 L495.25 196.89 L495.50 197.65 L495.75 198.43 L496.00 199.21 L496.25 199.99 L496.50 200.78 L496.75 201.57 L497.00 202.37 L497.25 203.18 L497.50 203.99 L497.75 204.81 L498.00 205.63 L498.25 206.46 L498.50 207.29 L498.75 208.13 L499.00 208.98 L499.25 209.83 L499.50 210.69 L499.75 211.55 L500.00 212.42 L500.25 213.29 L500.50 214.18 L500.75 215.06 L501.00 215.96 L501.25 216.86 L501.50 217.76 L501.75 218.68 L502.00 219.59 L502.25 220.52 L502.50 221.45 L502.75 222.39 L503.00 223.33 L503.25 224.28 L503.50 225.24 L503.75 226.21 L504.00 227.18 L504.25 228.16 L504.50 229.14 L504.75 230.13 L505.00 231.13 L505.25 232.13 L505.50 233.15 L505.75 234.17 L506.00 235.19 L506.25 236.23 L506.50 237.27 L506.75 238.31 L507.00 239.37 L507.25 240.43 L507.50 241.50 L507.75 242.58 L508.00 243.66 L508.25 244.75 L508.50 245.85 L508.75 246.96 L509.00 248.08 L509.25 249.20 L509.50 250.33 L509.75 251.47 L510.00 252.61 L510.25 253.77 L510.50 254.93 L510.75 256.10 L511.00 257.28 L511.25 258.47 L511.50 259.66 L511.75 260.86 L512.00 262.08 L512.25 263.30 L512.50 264.52 L512.75 265.76 L513.00 267.01 L513.25 268.26 L513.50 269.53 L513.75 270.80 L514.00 272.08 L514.25 273.37 L514.50 274.67 L514.75 275.97 L515.00 277.29 L515.25 278.62 L515.50 279.95 L515.75 281.30 L516.00 282.65 L516.25 284.02 L516.50 285.39 L516.75 286.77 L517.00 288.16 L517.25 289.57 L517.50 290.98 L517.75 292.40 L518.00 293.83 L518.25 295.27 L518.50 296.72 L518.75 298.19 L519.00 299.66 L519.25 301.14 L519.50 302.63 L519.75 304.14 L520.00 305.65 L520.25 307.18 L520.50 308.71 L520.75 310.26 L521.00 311.82 L521.25 313.38 L521.50 314.96 L521.75 316.55 L522.00 318.15 L522.25 319.77 L522.50 321.39 L522.75 323.03 L523.00 324.67 L523.25 326.33 L523.50 328.00 L523.75 329.68 L524.00 331.38 L524.25 333.08 L524.50 334.80 L524.75 336.53 L525.00 338.27 L525.25 340.03 L525.50 341.80 L525.75 343.58 L526.00 345.37 L526.25 347.17 L526.50 348.99 L526.75 350.82 L527.00 352.67 L527.25 354.52 L527.40 355.64" stroke="#ff0000" stroke-width="2.3" stroke-dasharray="11.8 3 3.4 3" stroke-dashoffset="1.2"/>
</g>
<rect x="379" y="3.2" width="165" height="38.4" fill="#fff" stroke="#000" stroke-width="1.3"/>
<path d="M380.1 13.4H410.1" stroke="#0000ff" stroke-width="2.4"/>
<path d="M380.1 30.6H410.1" stroke="#ff0000" stroke-width="2.3" stroke-dasharray="12.3 3.6 3.8 3.6"/>
<text x="412.7" y="17.6" font-size="12.25px">Reliability based on λ(t)</text>
<text x="412.7" y="35.0" font-size="12.25px">Reliability based on λ<tspan font-size="8px" dy="3">mo</tspan><tspan dy="-3">(t)</tspan></text>
</svg>
</body></html>
